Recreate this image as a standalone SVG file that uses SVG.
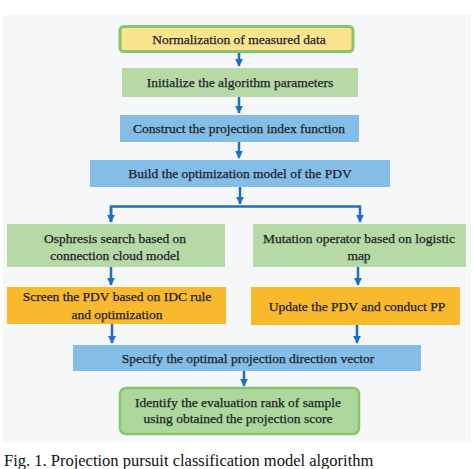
<svg xmlns="http://www.w3.org/2000/svg" width="474" height="469" viewBox="0 0 474 469">
<defs>
<style>
.t{font-family:"Liberation Serif","Times New Roman",serif;font-size:13.5px;fill:#1d1d2b;stroke:#1d1d2b;stroke-width:0.25;text-anchor:middle}
.cap{font-family:"Liberation Serif","Times New Roman",serif;font-size:16.5px;fill:#111}
.y{fill:#fbe48e;stroke:#86c46f;stroke-width:3}
.g{fill:#b6d9a6}
.b{fill:#84bee7}
.o{fill:#f8ba2c}
.gf{fill:#acd89c;stroke:#86c46f;stroke-width:2.5}
.c{fill:none;stroke:#1f6fc1;stroke-width:2.5}
</style>
<marker id="ah" viewBox="0 0 10 10" refX="9" refY="5" markerWidth="3.2" markerHeight="3.2" orient="auto" markerUnits="strokeWidth">
<path d="M0,0 L10,5 L0,10 z" fill="#1f6fc1"/>
</marker>
</defs>
<rect x="0" y="0" width="474" height="469" fill="#ffffff"/>
<rect x="3" y="15" width="468" height="427" fill="#f6f7f9"/>
<g id="n1"><rect class="y" x="120" y="26.5" width="233" height="25" rx="4"/><text class="t" x="239" y="44">Normalization of measured data</text></g>
<g id="n2"><rect class="g" x="122" y="68" width="236" height="29"/><text class="t" x="240" y="87">Initialize the algorithm parameters</text></g>
<g id="n3"><rect class="b" x="120" y="115" width="239" height="27"/><text class="t" x="239" y="133">Construct the projection index function</text></g>
<g id="n4"><rect class="b" x="90" y="160" width="300" height="27"/><text class="t" x="240" y="178">Build the optimization model of the PDV</text></g>
<g id="n5"><rect class="g" x="7" y="224" width="218" height="43"/><text class="t" x="115" y="243">Osphresis search based on</text><text class="t" x="115" y="260">connection cloud model</text></g>
<g id="n6"><rect class="g" x="253" y="224" width="213" height="43"/><text class="t" x="359" y="243">Mutation operator based on logistic</text><text class="t" x="359" y="260">map</text></g>
<g id="n7"><rect class="o" x="7" y="287" width="219" height="37"/><text class="t" x="117" y="301">Screen the PDV based on IDC rule</text><text class="t" x="117" y="319">and optimization</text></g>
<g id="n8"><rect class="o" x="251" y="287" width="209" height="38"/><text class="t" x="357" y="311">Update the PDV and conduct PP</text></g>
<g id="n9"><rect class="b" x="73" y="345" width="348" height="26"/><text class="t" x="248" y="363">Specify the optimal projection direction vector</text></g>
<g id="n10"><rect class="gf" x="120" y="388" width="239" height="46" rx="6"/><text class="t" x="238" y="407">Identify the evaluation rank of sample</text><text class="t" x="238" y="423">using obtained the projection score</text></g>
<g id="connectors">
<line class="c" x1="239" y1="53" x2="239" y2="66" marker-end="url(#ah)"/>
<line class="c" x1="239" y1="97" x2="239" y2="113" marker-end="url(#ah)"/>
<line class="c" x1="239" y1="142" x2="239" y2="158" marker-end="url(#ah)"/>
<line class="c" x1="240" y1="187" x2="240" y2="204" marker-end="url(#ah)"/>
<polyline class="c" points="111,222 111,206.5 360,206.5 360,222" marker-end="url(#ah)"/>
<line class="c" x1="111" y1="207" x2="111" y2="222" marker-end="url(#ah)"/>
<line class="c" x1="111" y1="267" x2="111" y2="285" marker-end="url(#ah)"/>
<line class="c" x1="358" y1="267" x2="358" y2="285" marker-end="url(#ah)"/>
<line class="c" x1="112" y1="324" x2="112" y2="343" marker-end="url(#ah)"/>
<line class="c" x1="357" y1="325" x2="357" y2="343" marker-end="url(#ah)"/>
<line class="c" x1="244" y1="371" x2="244" y2="386" marker-end="url(#ah)"/>
</g>
<text class="cap" x="4" y="466">Fig. 1. Projection pursuit classification model algorithm</text>
</svg>
